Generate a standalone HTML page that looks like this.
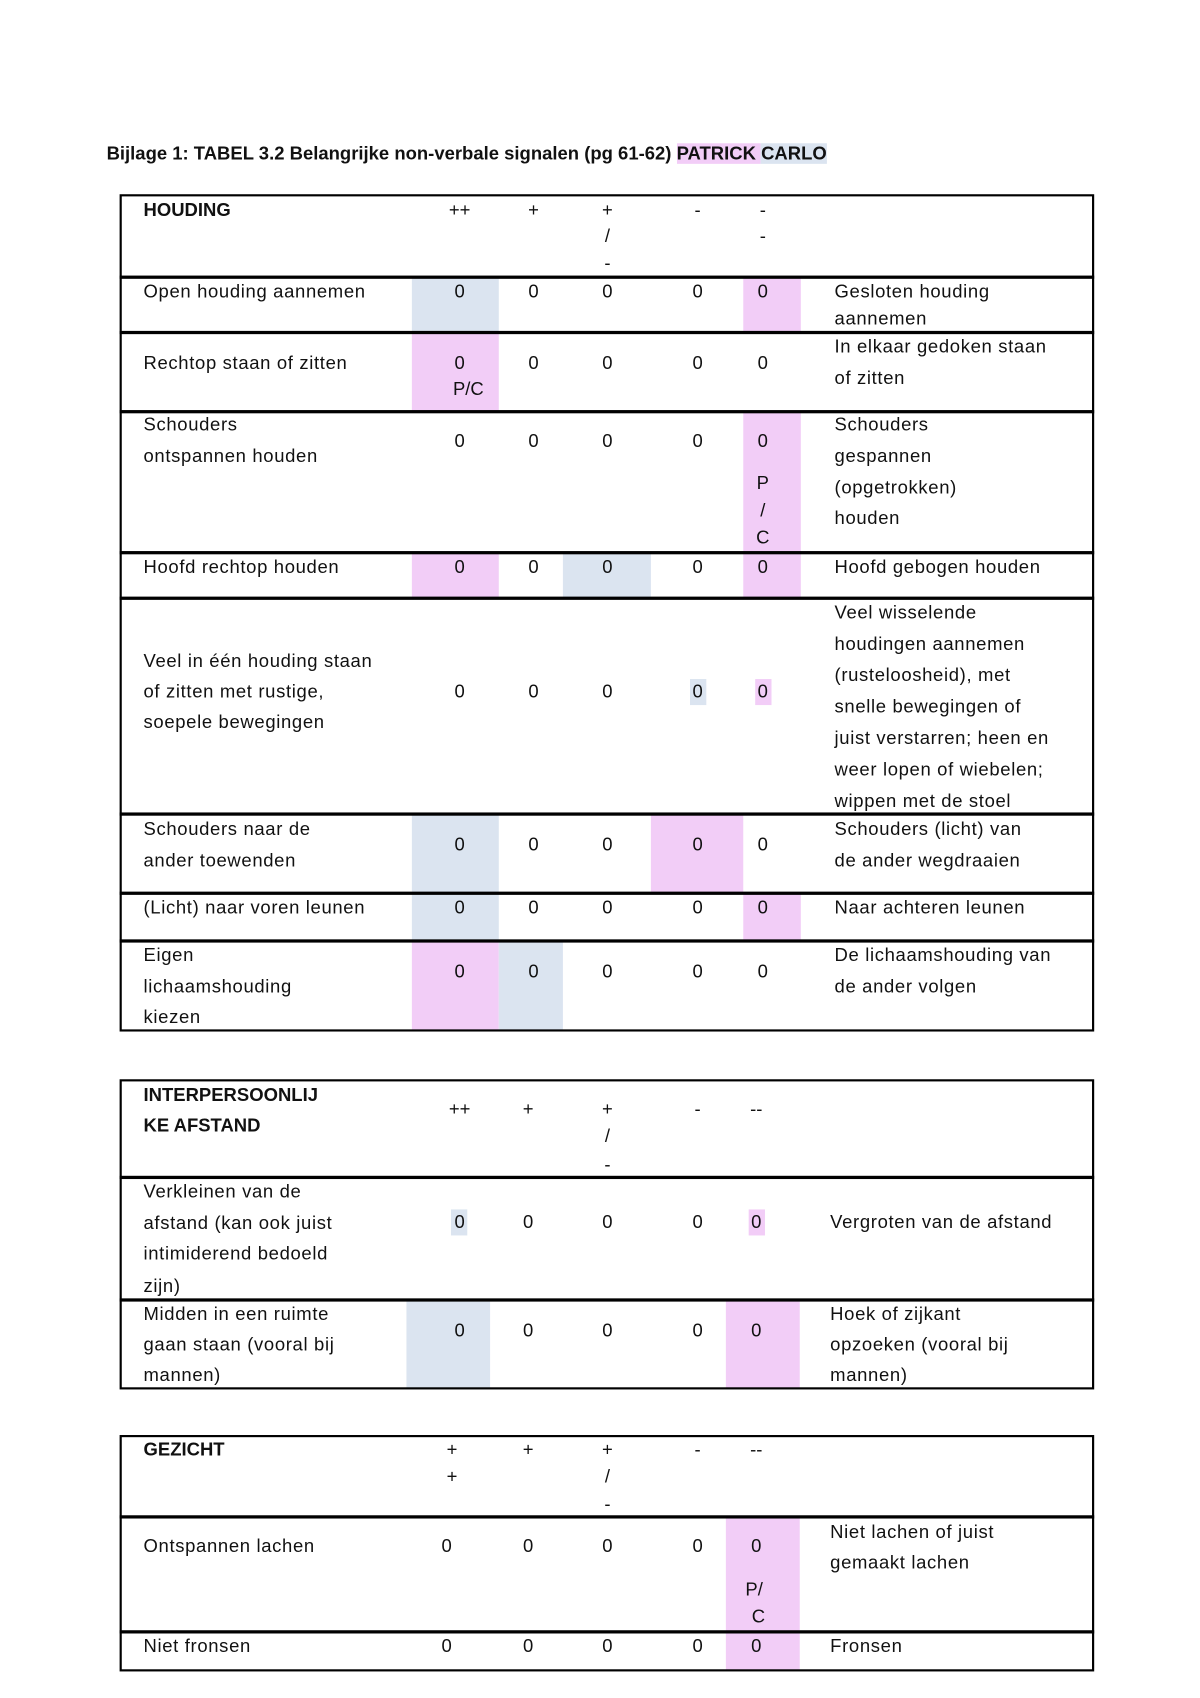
<!DOCTYPE html>
<html><head><meta charset="utf-8"><style>
html,body{margin:0;padding:0;background:#fff;width:1200px;height:1698px;overflow:hidden}
#w{position:absolute;left:-1px;top:-1px;width:1100px;height:1557px;transform:scale(1.0865,1.0846);transform-origin:0 0;font-family:"Liberation Sans Narrow","Liberation Sans",sans-serif;font-size:17px;color:#111}
.t{position:absolute;white-space:nowrap;line-height:20px;letter-spacing:0.6px}
.c{position:absolute;white-space:nowrap;line-height:20px;transform:translateX(-50%)}
.b{font-weight:bold;letter-spacing:0}
.box{position:absolute;border:2px solid #000;box-sizing:border-box}
.h{position:absolute;height:3px;background:#000}
.bl{position:absolute;background:#dbe4f0}
.pk{position:absolute;background:#f2cdf7}
</style></head><body><div id="w">
<div class="t b" style="left:99px;top:133px">Bijlage 1: TABEL 3.2 Belangrijke non-verbale signalen (pg 61-62) <span style="background:#f2cdf7">PATRICK </span><span style="background:#dbe4f0">CARLO</span></div>

<div class="bl" style="left:380px;top:256px;width:80px;height:51px"></div>
<div class="pk" style="left:685px;top:256px;width:53px;height:51px"></div>
<div class="pk" style="left:380px;top:307px;width:80px;height:73px"></div>
<div class="pk" style="left:685px;top:380px;width:53px;height:130px"></div>
<div class="pk" style="left:380px;top:510px;width:80px;height:42px"></div>
<div class="bl" style="left:519px;top:510px;width:81px;height:42px"></div>
<div class="pk" style="left:685px;top:510px;width:53px;height:42px"></div>
<div class="bl" style="left:636px;top:627px;width:15px;height:24px"></div>
<div class="pk" style="left:696px;top:627px;width:15px;height:24px"></div>
<div class="bl" style="left:380px;top:751px;width:80px;height:73px"></div>
<div class="pk" style="left:600px;top:751px;width:85px;height:73px"></div>
<div class="bl" style="left:380px;top:824px;width:80px;height:44px"></div>
<div class="pk" style="left:685px;top:824px;width:53px;height:44px"></div>
<div class="pk" style="left:380px;top:868px;width:80px;height:83px"></div>
<div class="bl" style="left:460px;top:868px;width:59px;height:83px"></div>

<div class="box" style="left:111px;top:180px;width:897px;height:772px"></div>
<div class="h" style="left:111px;top:255px;width:897px"></div>
<div class="h" style="left:111px;top:306px;width:897px"></div>
<div class="h" style="left:111px;top:379px;width:897px"></div>
<div class="h" style="left:111px;top:509px;width:897px"></div>
<div class="h" style="left:111px;top:551px;width:897px"></div>
<div class="h" style="left:111px;top:750px;width:897px"></div>
<div class="h" style="left:111px;top:823px;width:897px"></div>
<div class="h" style="left:111px;top:867px;width:897px"></div>

<div class="t b" style="left:133px;top:185px">HOUDING</div>
<div class="c" style="left:424px;top:185px">++</div>
<div class="c" style="left:492px;top:185px">+</div>
<div class="c" style="left:560px;top:185px">+</div><div class="c" style="left:560px;top:209px">/</div><div class="c" style="left:560px;top:234px">-</div>
<div class="c" style="left:643px;top:185px">-</div>
<div class="c" style="left:703px;top:185px">-</div><div class="c" style="left:703px;top:209px">-</div>

<div class="t" style="left:133px;top:260px">Open houding aannemen</div>
<div class="c" style="left:424px;top:260px">0</div><div class="c" style="left:492px;top:260px">0</div><div class="c" style="left:560px;top:260px">0</div><div class="c" style="left:643px;top:260px">0</div><div class="c" style="left:703px;top:260px">0</div>
<div class="t" style="left:769px;top:260px">Gesloten houding</div><div class="t" style="left:769px;top:285px">aannemen</div>

<div class="t" style="left:133px;top:326px">Rechtop staan of zitten</div>
<div class="c" style="left:424px;top:326px">0</div><div class="c" style="left:432px;top:350px">P/C</div><div class="c" style="left:492px;top:326px">0</div><div class="c" style="left:560px;top:326px">0</div><div class="c" style="left:643px;top:326px">0</div><div class="c" style="left:703px;top:326px">0</div>
<div class="t" style="left:769px;top:311px">In elkaar gedoken staan</div><div class="t" style="left:769px;top:340px">of zitten</div>

<div class="t" style="left:133px;top:383px">Schouders</div><div class="t" style="left:133px;top:412px">ontspannen houden</div>
<div class="c" style="left:424px;top:398px">0</div><div class="c" style="left:492px;top:398px">0</div><div class="c" style="left:560px;top:398px">0</div><div class="c" style="left:643px;top:398px">0</div><div class="c" style="left:703px;top:398px">0</div>
<div class="c" style="left:703px;top:437px">P</div><div class="c" style="left:703px;top:462px">/</div><div class="c" style="left:703px;top:487px">C</div>
<div class="t" style="left:769px;top:383px">Schouders</div><div class="t" style="left:769px;top:412px">gespannen</div><div class="t" style="left:769px;top:441px">(opgetrokken)</div><div class="t" style="left:769px;top:469px">houden</div>

<div class="t" style="left:133px;top:514px">Hoofd rechtop houden</div>
<div class="c" style="left:424px;top:514px">0</div><div class="c" style="left:492px;top:514px">0</div><div class="c" style="left:560px;top:514px">0</div><div class="c" style="left:643px;top:514px">0</div><div class="c" style="left:703px;top:514px">0</div>
<div class="t" style="left:769px;top:514px">Hoofd gebogen houden</div>

<div class="t" style="left:133px;top:601px">Veel in één houding staan</div><div class="t" style="left:133px;top:629px">of zitten met rustige,</div><div class="t" style="left:133px;top:657px">soepele bewegingen</div>
<div class="c" style="left:424px;top:629px">0</div><div class="c" style="left:492px;top:629px">0</div><div class="c" style="left:560px;top:629px">0</div><div class="c" style="left:643px;top:629px">0</div><div class="c" style="left:703px;top:629px">0</div>
<div class="t" style="left:769px;top:556px">Veel wisselende</div><div class="t" style="left:769px;top:585px">houdingen aannemen</div><div class="t" style="left:769px;top:614px">(rusteloosheid), met</div><div class="t" style="left:769px;top:643px">snelle bewegingen of</div><div class="t" style="left:769px;top:672px">juist verstarren; heen en</div><div class="t" style="left:769px;top:701px">weer lopen of wiebelen;</div><div class="t" style="left:769px;top:730px">wippen met de stoel</div>

<div class="t" style="left:133px;top:756px">Schouders naar de</div><div class="t" style="left:133px;top:785px">ander toewenden</div>
<div class="c" style="left:424px;top:770px">0</div><div class="c" style="left:492px;top:770px">0</div><div class="c" style="left:560px;top:770px">0</div><div class="c" style="left:643px;top:770px">0</div><div class="c" style="left:703px;top:770px">0</div>
<div class="t" style="left:769px;top:756px">Schouders (licht) van</div><div class="t" style="left:769px;top:785px">de ander wegdraaien</div>

<div class="t" style="left:133px;top:828px">(Licht) naar voren leunen</div>
<div class="c" style="left:424px;top:828px">0</div><div class="c" style="left:492px;top:828px">0</div><div class="c" style="left:560px;top:828px">0</div><div class="c" style="left:643px;top:828px">0</div><div class="c" style="left:703px;top:828px">0</div>
<div class="t" style="left:769px;top:828px">Naar achteren leunen</div>

<div class="t" style="left:133px;top:872px">Eigen</div><div class="t" style="left:133px;top:901px">lichaamshouding</div><div class="t" style="left:133px;top:929px">kiezen</div>
<div class="c" style="left:424px;top:887px">0</div><div class="c" style="left:492px;top:887px">0</div><div class="c" style="left:560px;top:887px">0</div><div class="c" style="left:643px;top:887px">0</div><div class="c" style="left:703px;top:887px">0</div>
<div class="t" style="left:769px;top:872px">De lichaamshouding van</div><div class="t" style="left:769px;top:901px">de ander volgen</div>

<div class="bl" style="left:416px;top:1116px;width:15px;height:24px"></div>
<div class="pk" style="left:690px;top:1116px;width:15px;height:24px"></div>
<div class="bl" style="left:375px;top:1199px;width:77px;height:82px"></div>
<div class="pk" style="left:669px;top:1199px;width:68px;height:82px"></div>
<div class="box" style="left:111px;top:996px;width:897px;height:286px"></div>
<div class="h" style="left:111px;top:1085px;width:897px"></div>
<div class="h" style="left:111px;top:1198px;width:897px"></div>

<div class="t b" style="left:133px;top:1001px">INTERPERSOONLIJ</div><div class="t b" style="left:133px;top:1029px">KE AFSTAND</div>
<div class="c" style="left:424px;top:1014px">++</div><div class="c" style="left:487px;top:1014px">+</div>
<div class="c" style="left:560px;top:1014px">+</div><div class="c" style="left:560px;top:1039px">/</div><div class="c" style="left:560px;top:1065px">-</div>
<div class="c" style="left:643px;top:1014px">-</div><div class="c" style="left:697px;top:1014px">--</div>

<div class="t" style="left:133px;top:1090px">Verkleinen van de</div><div class="t" style="left:133px;top:1119px">afstand (kan ook juist</div><div class="t" style="left:133px;top:1147px">intimiderend bedoeld</div><div class="t" style="left:133px;top:1177px">zijn)</div>
<div class="c" style="left:424px;top:1118px">0</div><div class="c" style="left:487px;top:1118px">0</div><div class="c" style="left:560px;top:1118px">0</div><div class="c" style="left:643px;top:1118px">0</div><div class="c" style="left:697px;top:1118px">0</div>
<div class="t" style="left:765px;top:1118px">Vergroten van de afstand</div>

<div class="t" style="left:133px;top:1203px">Midden in een ruimte</div><div class="t" style="left:133px;top:1231px">gaan staan (vooral bij</div><div class="t" style="left:133px;top:1259px">mannen)</div>
<div class="c" style="left:424px;top:1218px">0</div><div class="c" style="left:487px;top:1218px">0</div><div class="c" style="left:560px;top:1218px">0</div><div class="c" style="left:643px;top:1218px">0</div><div class="c" style="left:697px;top:1218px">0</div>
<div class="t" style="left:765px;top:1203px">Hoek of zijkant</div><div class="t" style="left:765px;top:1231px">opzoeken (vooral bij</div><div class="t" style="left:765px;top:1259px">mannen)</div>

<div class="pk" style="left:669px;top:1399px;width:68px;height:142px"></div>
<div class="box" style="left:111px;top:1324px;width:897px;height:218px"></div>
<div class="h" style="left:111px;top:1398px;width:897px"></div>
<div class="h" style="left:111px;top:1504px;width:897px"></div>

<div class="t b" style="left:133px;top:1328px">GEZICHT</div>
<div class="c" style="left:417px;top:1328px">+</div><div class="c" style="left:417px;top:1353px">+</div>
<div class="c" style="left:487px;top:1328px">+</div>
<div class="c" style="left:560px;top:1328px">+</div><div class="c" style="left:560px;top:1353px">/</div><div class="c" style="left:560px;top:1378px">-</div>
<div class="c" style="left:643px;top:1328px">-</div><div class="c" style="left:697px;top:1328px">--</div>

<div class="t" style="left:133px;top:1417px">Ontspannen lachen</div>
<div class="c" style="left:412px;top:1417px">0</div><div class="c" style="left:487px;top:1417px">0</div><div class="c" style="left:560px;top:1417px">0</div><div class="c" style="left:643px;top:1417px">0</div><div class="c" style="left:697px;top:1417px">0</div>
<div class="c" style="left:695px;top:1457px">P/</div><div class="c" style="left:699px;top:1482px">C</div>
<div class="t" style="left:765px;top:1404px">Niet lachen of juist</div><div class="t" style="left:765px;top:1432px">gemaakt lachen</div>

<div class="t" style="left:133px;top:1509px">Niet fronsen</div>
<div class="c" style="left:412px;top:1509px">0</div><div class="c" style="left:487px;top:1509px">0</div><div class="c" style="left:560px;top:1509px">0</div><div class="c" style="left:643px;top:1509px">0</div><div class="c" style="left:697px;top:1509px">0</div>
<div class="t" style="left:765px;top:1509px">Fronsen</div>
</div></body></html>
